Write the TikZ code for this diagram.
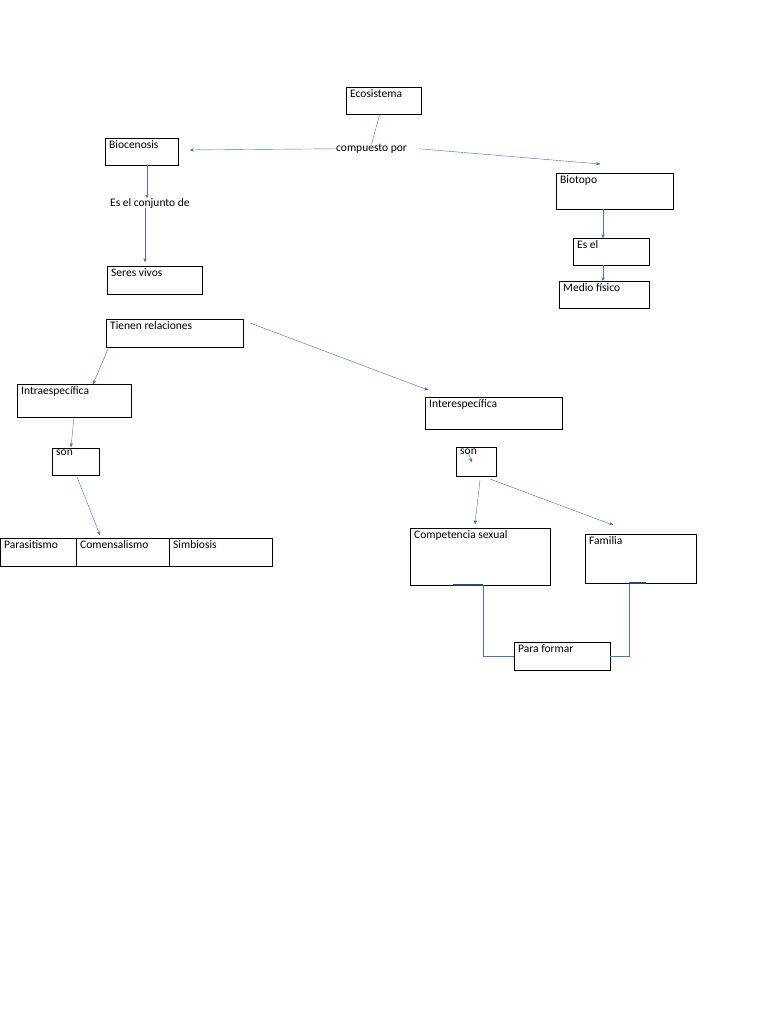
\documentclass[tikz,border=0pt]{standalone}
\usepackage{fontspec}
\setmainfont{Carlito}
\usetikzlibrary{arrows,positioning}
\definecolor{conn}{HTML}{4472C4}

\begin{document}
\begin{tikzpicture}[x=1pt,y=-1pt,>=stealth',font=\fontsize{11.5}{13}\selectfont,
    box/.style={draw=black, anchor=north west, inner sep=0pt},
    txt/.style={anchor=north west, inner sep=0pt},
    link/.style={->, draw=conn}]
  \useasboundingbox (0,0) rectangle (768,1024);
  \newcommand{\bx}[6]{\node[box, minimum width=#4pt, minimum height=#5pt] (#1) at (#2,#3) {};
    \node[txt] at ([xshift=4pt,yshift=-2pt]#1.north west) {#6};}

  \bx{eco}{346}{87}{75}{27}{Ecosistema}
  \bx{bio}{105}{138}{73}{27}{Biocenosis}
  \bx{biot}{556}{173}{117}{36}{Biotopo}
  \bx{esel}{573}{238}{76}{27}{Es el}
  \bx{medio}{559}{281}{90}{27}{Medio físico}
  \bx{seres}{107}{266}{95}{28}{Seres vivos}
  \bx{tienen}{106}{319}{137}{28}{Tienen relaciones}
  \bx{intra}{17}{384}{114}{33}{Intraespecífica}
  \bx{inter}{425}{397}{137}{32}{Interespecífica}
  \bx{sonl}{52}{448}{47}{27}{son}
  \bx{sonr}{456}{447}{40}{29}{son}
  \bx{para}{0}{538}{76}{28}{Parasitismo}
  \bx{come}{76}{538}{93}{28}{Comensalismo}
  \bx{simb}{169}{538}{103}{28}{Simbiosis}
  \bx{comp}{410}{528}{140}{57}{Competencia sexual}
  \bx{fam}{585}{534}{111}{49}{Familia}
  \bx{form}{514}{642}{96}{28}{Para formar}

  \node[txt] (compu) at (336,144) {compuesto por};
  \node[txt] (conj) at (110,198) {Es el conjunto de};

  \draw[conn] (eco.south) ++(-4,0) -- (compu.north);
  \draw[link] (compu.west) -- (190,150);
  \draw[link] (compu.east) ++(12,0) -- (600,164);
  \draw[link] (147,165) -- (conj.north -| 147,0);
  \draw[link] (conj.south -| 145,0) -- (145,262);
  \draw[link] (603,209) -- (esel.north -| 603,0);
  \draw[link] (603,265) -- (medio.north -| 603,0);
  \draw[link] (108,349) -- (93,384);
  \draw[link] (250,323) -- (428,390);
  \draw[link] (74,417) -- (71,447);
  \draw[link] (77,477) -- (100,535);
  \draw[link] (468,452) -- (472,462);
  \draw[link] (480,480) -- (475,524);
  \draw[link] (490,479) -- (613,525);
  \draw[conn] (483,585) |- (form.west);
  \draw[conn] (629,583) |- (form.east);
  \draw[conn!60!black, line width=1.2pt] (453,585) -- (483,585);
  \draw[conn!60!black, line width=1.2pt] (629,583) -- (646,583);
\end{tikzpicture}
\end{document}
